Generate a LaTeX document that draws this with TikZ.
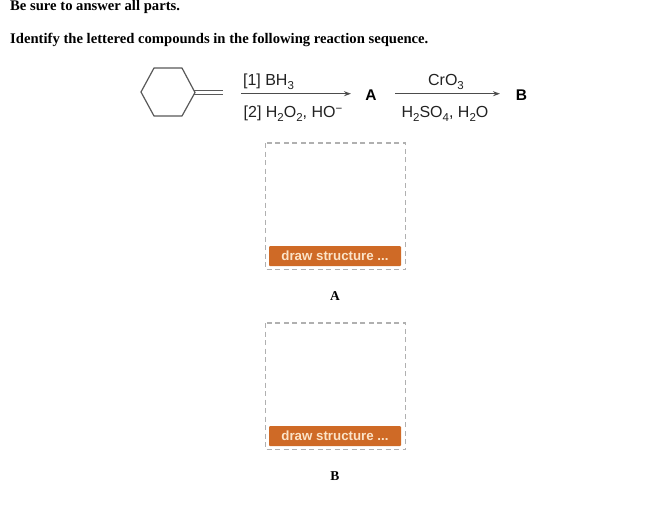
\documentclass[tikz,border=0pt]{standalone}
\usepackage{fontspec}
\setmainfont{Liberation Serif}
\newfontfamily\sans{Liberation Sans}
\usetikzlibrary{arrows.meta}
\definecolor{btn}{HTML}{CF6A26}
\definecolor{btntxt}{HTML}{FBE3C8}
\definecolor{dashc}{HTML}{B0B0B0}
\definecolor{ink}{HTML}{222222}
\newcommand{\fs}[1]{\fontsize{#1}{#1}\selectfont}
\newcommand{\lowsub}[1]{\raisebox{-4pt}{\fs{11.5}#1}}
\newcommand{\upsup}[1]{\raisebox{5pt}{\fs{11.5}#1}}
\tikzset{
  x=1pt,y=-1pt,
  heading/.style={anchor=base west,inner sep=0,text=black,font=\fs{14.65}\bfseries},
  chem/.style={anchor=base,inner sep=0,text=ink,font=\sans\fs{16}},
  letter/.style={anchor=base,inner sep=0,text=black,font=\sans\fs{15.5}\bfseries},
  boxlabel/.style={anchor=base,inner sep=0,text=black,font=\fs{13.5}\bfseries},
  bond/.style={draw=black!65,line width=1.2pt,line join=round},
  rxn/.style={draw=black!70,line width=1.1pt,-{Stealth[length=7pt,width=5pt]}},
  dropbox/.style={draw=dashc,line width=1.8pt,dash pattern=on 5pt off 3.5pt},
  button/.style={fill=btn,rounded corners=1pt,text=btntxt,inner sep=0,font=\sans\fs{13.3}\bfseries,align=center},
}
\begin{document}
\begin{tikzpicture}
\useasboundingbox (0,0) rectangle (649,517);
\fill[white] (0,0) rectangle (649,517);
\node[heading] (t1) at (10,10) {Be sure to answer all parts.};
\node[heading] (t2) at (10,43) {Identify the lettered compounds in the following reaction sequence.};
% cyclohexane
\coordinate (c1) at (154,68);
\coordinate (c2) at (182,68);
\coordinate (c3) at (195,92.5);
\coordinate (c4) at (182,116);
\coordinate (c5) at (154,116);
\coordinate (c6) at (141,92);
\draw[bond] (c1)--(c2)--(c3)--(c4)--(c5)--(c6)--cycle;
\coordinate (e1) at (194,90.5);
\coordinate (e2) at (223,90.5);
\coordinate (e3) at (194,94.5);
\coordinate (e4) at (223,94.5);
\draw[bond] (e1)--(e2);
\draw[bond] (e3)--(e4);
% reaction
\coordinate (a1) at (241,93.7);
\coordinate (a2) at (351,93.7);
\coordinate (b1) at (395,93.7);
\coordinate (b2) at (500,93.7);
\draw[rxn] (a1)--(a2);
\draw[rxn] (b1)--(b2);
\node[chem] (r1) at (268.5,85) {[1] BH\lowsub{3}};
\node[chem] (r2) at (293,117.5) {[2] H\lowsub{2}O\lowsub{2}, HO\upsup{−}};
\node[chem] (r3) at (446,85) {CrO\lowsub{3}};
\node[chem] (r4) at (445,117.5) {H\lowsub{2}SO\lowsub{4}, H\lowsub{2}O};
\node[letter] (la) at (371,100.5) {A};
\node[letter] (lb) at (521.5,100.5) {B};
% answer boxes
\draw[dropbox] (265.5,143) rectangle (405.5,269.5);
\node[button,minimum width=132,minimum height=20] (d1) at (335,256) {draw structure ...};
\node[boxlabel] (ba) at (335,300.5) {A};
\draw[dropbox] (265.5,323) rectangle (405.5,449.5);
\node[button,minimum width=132,minimum height=20] (d2) at (335,436) {draw structure ...};
\node[boxlabel] (bb) at (335,480.5) {B};
\end{tikzpicture}
\end{document}
